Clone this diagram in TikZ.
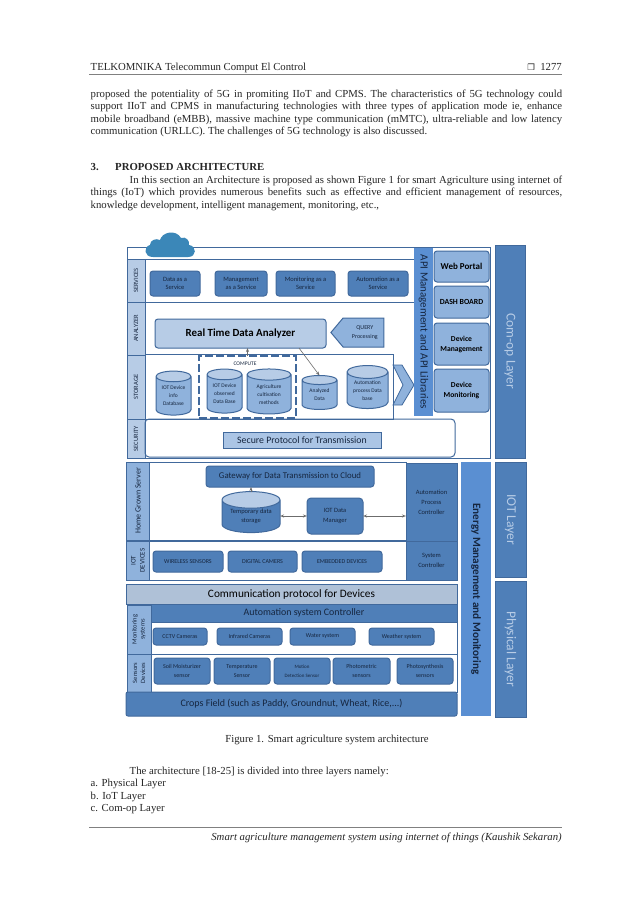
\documentclass[tikz,border=0pt]{standalone}
\usepackage{fontspec}
\usepackage{xcolor}
\usetikzlibrary{shapes.geometric,shapes.symbols,arrows.meta}
\setmainfont{Liberation Serif}
\newfontfamily\calfont{Carlito}
\newfontfamily\symfont{DejaVu Sans}
\definecolor{edgeblue}{HTML}{41699C}
\definecolor{paleblue}{HTML}{B7CCE6}
\definecolor{midblue}{HTML}{8FB2DC}
\definecolor{deepblue}{HTML}{4F7FB8}
\definecolor{barblue}{HTML}{5A8FD2}
\definecolor{inkblue}{HTML}{16263F}
\definecolor{cloudblue}{HTML}{3B87B8}
\tikzset{
  pagetext/.style={font=\fontsize{10.75}{12.2}\selectfont,inner sep=0,text=black!85},
  para/.style={pagetext,anchor=north west,text width=471.5,align=justify},
  pagerule/.style={draw=gray,line width=0.8pt},
  frame/.style={draw=edgeblue,line width=1pt,fill=white,rectangle,inner sep=0,outer sep=0},
  tag/.style={frame,fill=paleblue,text=inkblue,align=center,rotate=90,
    font=\calfont\fontsize{6.5}{7.5}\selectfont},
  darktag/.style={tag,fill=midblue,font=\calfont\fontsize{8}{9}\selectfont},
  card/.style={frame,rounded corners=3,fill=deepblue,text=inkblue,align=center,
    font=\calfont\fontsize{6.5}{8.5}\selectfont},
  lightcard/.style={card,fill=midblue,font=\calfont\bfseries\fontsize{9}{10}\selectfont,text=black},
  band/.style={frame,fill=deepblue,text=inkblue,align=center,font=\calfont\fontsize{10}{11}\selectfont},
  layer/.style={frame,fill=deepblue,text=paleblue,rotate=-90,font=\calfont\fontsize{13.5}{15}\selectfont},
  drum/.style={cylinder,shape border rotate=90,aspect=0.45,draw=edgeblue,line width=1pt,inner sep=0,outer sep=0,
    cylinder uses custom fill,cylinder body fill=midblue,cylinder end fill=paleblue,text=inkblue,align=center,
    font=\calfont\fontsize{5.5}{8}\selectfont},
  link/.style={draw=gray!85!black,line width=0.6pt,-{Stealth[length=4pt,width=3pt]}},
  twolink/.style={link,{Stealth[length=4pt,width=3pt,open]}-{Stealth[length=4pt,width=3pt,open]}}
}
\begin{document}
\begin{tikzpicture}[x=1pt,y=-1pt]
    \useasboundingbox (0,0) rectangle (638,902);
    \fill[white] (0,0) rectangle (638,902);
    % page text
    \node[pagetext,anchor=base west] (runhead) at (90.5,70.7) {TELKOMNIKA Telecommun Comput El Control};
    \node[pagetext,anchor=base east] (pageno) at (562,70.7) {{\symfont\fontsize{8.5}{10}\selectfont ❒}\ \ 1277};
    \draw[pagerule] (89,74.5) -- (562,74.5);
    \node[para] (intro) at (90.5,90) {proposed the potentiality of 5G in promiting IIoT and CPMS. The characteristics of 5G technology could\linebreak support IIoT and CPMS in manufacturing technologies with three types of application mode ie, enhance\linebreak mobile broadband (eMBB), massive machine type communication (mMTC), ultra-reliable and low latency\linebreak communication (URLLC). The challenges of 5G technology is also discussed.};
    \node[pagetext,anchor=base west,font=\fontsize{10.75}{12.2}\selectfont\bfseries] (secnum) at (90.5,170.7) {3.};
    \node[pagetext,anchor=base west,font=\fontsize{10.75}{12.2}\selectfont\bfseries] (sectitle) at (115,170.7) {PROPOSED ARCHITECTURE};
    \node[para] (secbody) at (90.5,176) {\hspace*{39pt}In this section an Architecture is proposed as shown Figure 1 for smart Agriculture using internet of\linebreak things (IoT) which provides numerous benefits such as effective and efficient management of resources,\linebreak knowledge development, intelligent management, monitoring, etc.,};
    % upper block
    \node[frame,minimum width=363,minimum height=211] (cloudframe) at (308.5,352.5) {};
    \node[frame,minimum width=288,minimum height=43] (servrow) at (271,280.5) {};
    \node[tag,minimum width=43,minimum height=18] (servtag) at (136,280.5) {SERVICES};
    \node[tag,minimum width=53,minimum height=18] (anatag) at (136,328.5) {ANALYZER};
    \node[tag,minimum width=64,minimum height=18] (stortag) at (136,387) {STORAGE};
    \node[tag,minimum width=39,minimum height=18] (sectag) at (136,438.5) {SECURITY};
    \fill[cloudblue] (153,257) .. controls (144,257) and (143,247) .. (150,245) .. controls (150,240) and (156,238) .. (160,240) .. controls (162,232) and (176,229) .. (181,238) .. controls (186,236) and (190,241) .. (189,245) .. controls (197,246) and (197,257) .. (188,257) -- cycle;
    \node[card,minimum width=50,minimum height=25] (dataserv) at (175,283.5) {Data as a\\Service};
    \node[card,minimum width=52,minimum height=25] (mgmtserv) at (241,283.5) {Management\\as a Service};
    \node[card,minimum width=59,minimum height=25] (monserv) at (305.5,283.5) {Monitoring as a\\Service};
    \node[card,minimum width=60,minimum height=25] (autoserv) at (378,283.5) {Automation as a\\Service};
    \node[frame,rounded corners=3,fill=paleblue,text=black,minimum width=171,minimum height=29,font=\calfont\bfseries\fontsize{10.9}{12}\selectfont] (rtda) at (240.5,333.5) {Real Time Data Analyzer};
    \node[frame,fill=midblue,signal,signal to=west,signal pointer angle=100,text=inkblue,align=center,minimum width=53,minimum height=29,font=\calfont\fontsize{6}{8.5}\selectfont] (query) at (363.5,332.5) {\ \ QUERY\\\ \ Processing};
    \node[frame,fill=none,minimum width=248,minimum height=65] (storframe) at (269,386.5) {};
    \node[draw=edgeblue,line width=1.4pt,dash pattern=on 8pt off 3pt,minimum width=97,minimum height=62,inner sep=0,outer sep=0] (compute) at (247.5,387) {};
    \node[font=\calfont\fontsize{5.5}{7}\selectfont,text=inkblue,inner sep=0] (computetxt) at (245,364) {COMPUTE};
    \node[drum,minimum width=35,minimum height=44] (devinfo) at (173.5,396) {IOT Device\\info\\Database};
    \node[drum,minimum width=35,minimum height=44] (devobs) at (224.5,394) {IOT Device\\observed\\Data Base};
    \node[drum,minimum width=44,minimum height=45] (agrimeth) at (269,394.5) {Agriculture\\cultivation\\methods};
    \node[drum,minimum width=35,minimum height=34] (anadata) at (319.5,395) {Analyzed\\Data};
    \node[drum,minimum width=41,minimum height=43] (autodata) at (367.5,390.5) {Automation\\process Data\\base};
    \fill[midblue,draw=edgeblue,line width=0.8pt] (393,365) -- (402,365) -- (414,385) -- (402,405) -- (393,405) -- (403,385) -- cycle;
    \node[frame,rounded corners=4,fill=none,minimum width=310,minimum height=38] (secframe) at (300,438) {};
    \node[frame,fill=midblue!75!white,text=inkblue,minimum width=158,minimum height=16,font=\calfont\fontsize{9.8}{11}\selectfont] (secure) at (302,440) {Secure Protocol for Transmission};
    \node[frame,draw=none,fill=barblue,text=inkblue,rotate=-90,minimum width=168,minimum height=19,font=\calfont\fontsize{11}{12}\selectfont] (apibar) at (423.5,332) {API Management and API Libraries};
    \node[lightcard,minimum width=55,minimum height=31] (webport) at (461.5,266.5) {Web Portal};
    \node[lightcard,minimum width=55,minimum height=32,font=\calfont\bfseries\fontsize{7.8}{9}\selectfont] (dash) at (461.5,302) {DASH BOARD};
    \node[lightcard,minimum width=55,minimum height=42,font=\calfont\bfseries\fontsize{7.6}{10}\selectfont] (devmgmt) at (461.5,344) {Device\\Management};
    \node[lightcard,minimum width=55,minimum height=43,font=\calfont\bfseries\fontsize{7.6}{10}\selectfont] (devmon) at (461.5,390.5) {Device\\Monitoring};
    \node[layer,minimum width=213,minimum height=30] (comop) at (510,351.5) {Com-op Layer};
    % middle block
    \node[frame,minimum width=257,minimum height=78] (homerow) at (277.5,501) {};
    \node[frame,minimum width=257,minimum height=39] (devrow) at (277.5,560.5) {};
    \node[darktag,minimum width=78,minimum height=23] (hometag) at (138,501) {Home Grown Server};
    \node[darktag,minimum width=39,minimum height=23,font=\calfont\fontsize{7}{9}\selectfont] (devtag) at (138,560.5) {IOT\\DEVICES};
    \node[band,rounded corners=3,minimum width=168,minimum height=21,font=\calfont\fontsize{8.8}{10}\selectfont] (gateway) at (290,476.5) {Gateway for Data Transmission to Cloud};
    \node[drum,aspect=0.4,cylinder body fill=deepblue,minimum width=58,minimum height=41,font=\calfont\fontsize{6.5}{9}\selectfont] (tempstore) at (251,516.5) {Temporary data\\storage};
    \node[card,rounded corners=4,minimum width=56,minimum height=36,font=\calfont\fontsize{6.5}{10}\selectfont] (datamgr) at (335,516) {IOT Data\\Manager};
    \node[card,minimum width=70,minimum height=21,font=\calfont\fontsize{6}{8}\selectfont] (wireless) at (188,561.5) {WIRELESS SENSORS};
    \node[card,minimum width=69,minimum height=21,font=\calfont\fontsize{6}{8}\selectfont] (digcam) at (262.5,561.5) {DIGITAL CAMERS};
    \node[card,minimum width=80,minimum height=21,font=\calfont\fontsize{6}{8}\selectfont] (embedded) at (342,561.5) {EMBEDDED DEVICES};
    \node[band,minimum width=51,minimum height=78,font=\calfont\fontsize{6.5}{10}\selectfont] (autoctrl) at (431.5,502) {Automation\\Process\\Controller};
    \node[band,minimum width=51,minimum height=39,font=\calfont\fontsize{6.5}{10}\selectfont] (sysctrl) at (431.5,560.5) {System\\Controller};
    \node[frame,draw=none,fill=barblue,text=inkblue,rotate=-90,minimum width=254,minimum height=30,font=\calfont\bfseries\fontsize{11.2}{12}\selectfont] (energy) at (476,589) {Energy Management and Monitoring};
    \node[layer,minimum width=115,minimum height=31] (iotlayer) at (510.5,519.5) {IOT Layer};
    \node[layer,minimum width=136,minimum height=31] (phylayer) at (510.5,649) {Physical Layer};
    % lower block
    \node[band,fill=paleblue!85!gray,text=black,minimum width=331,minimum height=20,font=\calfont\fontsize{11.3}{12}\selectfont] (commprot) at (291.5,594) {Communication protocol for Devices};
    \node[band,minimum width=306,minimum height=18,font=\calfont\fontsize{9.9}{11}\selectfont] (autosys) at (304,613) {Automation system Controller};
    \node[frame,minimum width=306,minimum height=32] (monrow) at (304,638) {};
    \node[frame,minimum width=306,minimum height=38] (senrow) at (304,673) {};
    \node[darktag,minimum width=49,minimum height=24,font=\calfont\fontsize{6.5}{8}\selectfont] (montag) at (139,629.5) {Monitoring\\systems};
    \node[darktag,minimum width=38,minimum height=24,font=\calfont\fontsize{6.5}{8}\selectfont] (sentag) at (139,673) {Sensors\\Devices};
    \node[card,minimum width=54,minimum height=17,font=\calfont\fontsize{6}{8}\selectfont] (cctv) at (180,636.5) {CCTV Cameras};
    \node[card,minimum width=65,minimum height=17,font=\calfont\fontsize{6}{8}\selectfont] (infrared) at (249.5,636.5) {Infrared Cameras};
    \node[card,minimum width=65,minimum height=17,font=\calfont\fontsize{6}{8}\selectfont] (water) at (322.5,636.5) {Water system};
    \node[card,minimum width=65,minimum height=17,font=\calfont\fontsize{6}{8}\selectfont] (weather) at (401.5,636.5) {Weather system};
    \node[card,minimum width=56,minimum height=26,font=\calfont\fontsize{6}{9}\selectfont] (soil) at (182,671) {Soil Moisturizer\\sensor};
    \node[card,minimum width=56,minimum height=26,font=\calfont\fontsize{6}{9}\selectfont] (temp) at (242,671) {Temperature\\Sensor};
    \node[card,minimum width=56,minimum height=26,font=\calfont\fontsize{5}{9}\selectfont] (motion) at (302,671) {Motion\\Detection Sensor};
    \node[card,minimum width=57,minimum height=26,font=\calfont\fontsize{6}{9}\selectfont] (photom) at (361.5,671) {Photometric\\sensors};
    \node[card,minimum width=56,minimum height=26,font=\calfont\fontsize{6}{9}\selectfont] (photos) at (425,671) {Photosynthesis\\sensors};
    \node[band,rounded corners=2,minimum width=331,minimum height=24,font=\calfont\fontsize{10}{11}\selectfont] (crops) at (291.5,704) {Crops Field (such as Paddy, Groundnut, Wheat, Rice,...)};
    % connectors
    \draw[link] (compute.north) -- (rtda.south -| compute.north);
    \coordinate (rtfoot) at (299,348);
    \draw[link] (rtfoot) -- (anadata.north);
    \draw[link] (tempstore.north) -- (gateway.south -| tempstore.north);
    \draw[twolink] (datamgr.west) -- (tempstore.east |- datamgr.west);
    \draw[twolink] (datamgr.east) -- (autoctrl.west |- datamgr.east);
    % page text below
    \node[pagetext,anchor=base] (figcap) at (327,742) {Figure 1. Smart agriculture system architecture};
    \node[pagetext,anchor=base west] (archline) at (129.5,774) {The architecture [18-25] is divided into three layers namely:};
    \node[pagetext,anchor=base west] (itema) at (90.5,786.7) {a. Physical Layer};
    \node[pagetext,anchor=base west] (itemb) at (90.5,799) {b. IoT Layer};
    \node[pagetext,anchor=base west] (itemc) at (90.5,811.3) {c. Com-op Layer};
    \draw[pagerule] (89,827.7) -- (562,827.7);
    \node[pagetext,anchor=base east,font=\fontsize{10.75}{12.2}\selectfont\itshape] (runfoot) at (562,840) {Smart agriculture management system using internet of things (Kaushik Sekaran)};
\end{tikzpicture}
\end{document}
